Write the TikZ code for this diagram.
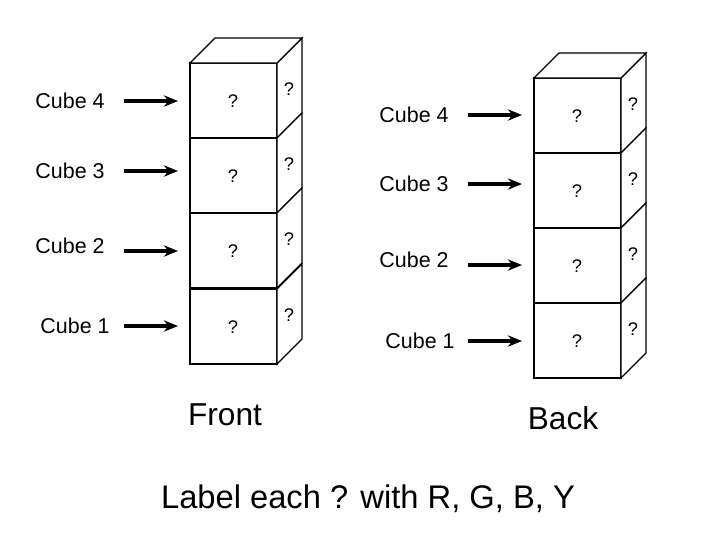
\documentclass[tikz,border=0pt]{standalone}
\usepackage{fontspec}
\setmainfont{Liberation Sans}
\usetikzlibrary{arrows.meta}
\begin{document}
\begin{tikzpicture}[x=0.01cm,y=-0.01cm,
 face/.style={draw=black,line width=0.35pt,fill=white},
 lab/.style={font=\fontsize{6.1}{7}\selectfont},
 q/.style={font=\fontsize{5.2}{6}\selectfont},
 arr/.style={line width=0.9pt,-{Stealth[length=4pt,width=3.2pt]}},
 head/.style={font=\fontsize{9}{11}\selectfont}]
\useasboundingbox (0,0) rectangle (711,553);
% left stack
\def\dx{25}\def\dy{-25}
\foreach \i/\t in {1/63,2/138,3/213,4/289}{
  \draw[face] (190,\t) rectangle (277,\t+75);
  \draw[face] (277,\t) -- (302,\t-25) -- (302,\t+50) -- (277,\t+75) -- cycle;
}
\draw[face] (190,63) -- (215,38) -- (302,38) -- (277,63) -- cycle;
\foreach \t [count=\k] in {63,138,213,289}{
  \node[q] (lf\k) at (233,\t+38) {?};
  \node[q] (ls\k) at (289,\t+26) {?};
}
\node[lab] (l4) at (70,101) {Cube 4};
\node[lab] (l3) at (70,171) {Cube 3};
\node[lab] (l2) at (70,246) {Cube 2};
\node[lab] (l1) at (75,326) {Cube 1};
\coordinate (la4) at (178,101);\coordinate (la3) at (178,171);
\coordinate (la2) at (178,251);\coordinate (la1) at (178,326);
\draw[arr] (124,101) -- (la4);
\draw[arr] (124,171) -- (la3);
\draw[arr] (124,251) -- (la2);
\draw[arr] (124,326) -- (la1);
\node[head] (front) at (225,415) {Front};
% right stack
\foreach \t in {78,153,228,303}{
  \draw[face] (534,\t) rectangle (621,\t+75);
  \draw[face] (621,\t) -- (646,\t-25) -- (646,\t+50) -- (621,\t+75) -- cycle;
}
\draw[face] (534,78) -- (559,53) -- (646,53) -- (621,78) -- cycle;
\foreach \t [count=\k] in {78,153,228,303}{
  \node[q] (rf\k) at (577,\t+38) {?};
  \node[q] (rs\k) at (633,\t+26) {?};
}
\node[lab] (r4) at (414,115) {Cube 4};
\node[lab] (r3) at (414,184) {Cube 3};
\node[lab] (r2) at (414,260) {Cube 2};
\node[lab] (r1) at (420,341) {Cube 1};
\coordinate (ra4) at (522,115);\coordinate (ra3) at (522,184);
\coordinate (ra2) at (522,265);\coordinate (ra1) at (522,341);
\draw[arr] (468,115) -- (ra4);
\draw[arr] (468,184) -- (ra3);
\draw[arr] (468,265) -- (ra2);
\draw[arr] (468,341) -- (ra1);
\node[head] (back) at (563,418) {Back};
\node[font=\fontsize{9.3}{11}\selectfont] (cap) at (368,499) {Label each ? with R, G, B, Y};
\end{tikzpicture}
\end{document}
